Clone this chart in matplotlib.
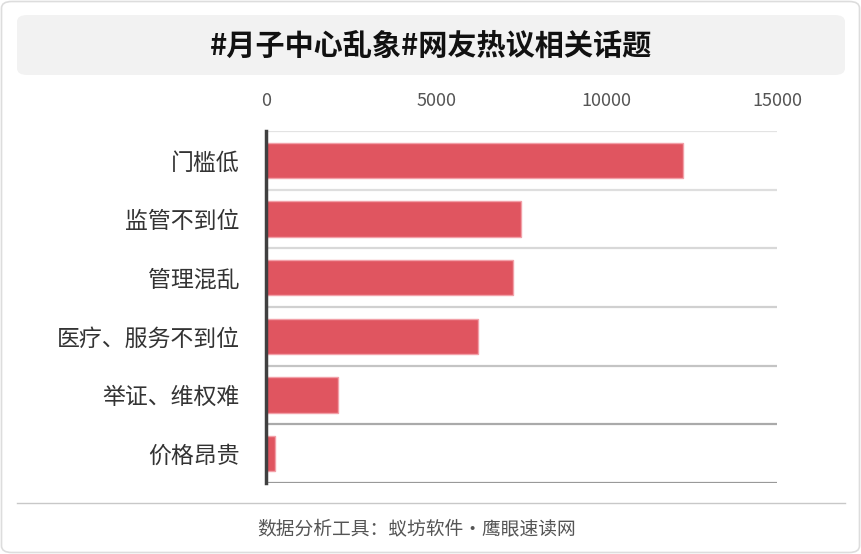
import matplotlib
matplotlib.use("Agg")
import matplotlib.pyplot as plt
from matplotlib.patches import FancyBboxPatch
from matplotlib.lines import Line2D

plt.rcParams['font.family'] = ['Noto Sans CJK SC', 'DejaVu Sans']

title = "#月子中心乱象#网友热议相关话题"
categories = ["门槛低", "监管不到位", "管理混乱", "医疗、服务不到位", "举证、维权难", "价格昂贵"]
values = [12230, 7480, 7240, 6210, 2100, 250]
xticks = [0, 5000, 10000, 15000]
footer = "数据分析工具：蚁坊软件•鹰眼速读网"

W, H = 861, 554
fig = plt.figure(figsize=(W / 100, H / 100), dpi=100)

# outer border
fig.patches.append(FancyBboxPatch((1.5 / W, 1.5 / H), (W - 3) / W, (H - 3) / H,
                                  boxstyle="round,pad=0,rounding_size=0.012",
                                  transform=fig.transFigure, facecolor="none",
                                  edgecolor="#dddddd", linewidth=1.2, zorder=-2))
# title box
fig.patches.append(FancyBboxPatch((17 / W, 1 - 75 / H), (845 - 17) / W, 60 / H,
                                  boxstyle="round,pad=0,rounding_size=0.012",
                                  transform=fig.transFigure, facecolor="#f2f2f2",
                                  edgecolor="none", zorder=-1))
fig.text(431 / W, 1 - 46 / H, title, ha="center", va="center", fontsize=21,
         fontweight="bold", color="#111111")

# plot area
x0, x1 = 266, 777
y0, y1 = 131, 483
ax = fig.add_axes([x0 / W, 1 - y1 / H, (x1 - x0) / W, (y1 - y0) / H])
ax.set_facecolor("none")
n = len(categories)
ypos = list(range(n))
ax.barh(ypos, values, height=0.6, color="#e05560", edgecolor="#f2a0a8",
        linewidth=1.0, zorder=3)
ax.set_xlim(0, 15000)
ax.set_ylim(n - 0.5, -0.5)
ax.set_yticks(ypos)
ax.set_yticklabels(categories, fontsize=16.5, color="#333333")
ax.set_xticks(xticks)
ax.set_xticklabels([str(v) for v in xticks], fontsize=13, color="#555555")
ax.xaxis.tick_top()
ax.tick_params(axis="x", length=0, pad=15)
ax.tick_params(axis="y", length=0, pad=19)
for s in ["top", "right", "bottom"]:
    ax.spines[s].set_visible(False)
ax.spines["left"].set_color("#404040")
ax.spines["left"].set_linewidth(2.5)
ax.spines["left"].set_zorder(5)

grid_colors = ["#e3e3e3", "#dedede", "#d8d8d8", "#d0d0d0", "#c4c4c4", "#aaaaaa", "#999999"]
for i, c in enumerate(grid_colors):
    ax.axhline(i - 0.5, color=c, linewidth=1.6, zorder=2)

# footer
fig.add_artist(Line2D([17 / W, 845 / W], [1 - 503 / H, 1 - 503 / H],
                      transform=fig.transFigure, color="#c8c8c8", linewidth=1.0))
fig.text(417 / W, 1 - 530 / H, footer, ha="center", va="center", fontsize=13.5,
         color="#555555")

fig.savefig("out.png", dpi=100)
